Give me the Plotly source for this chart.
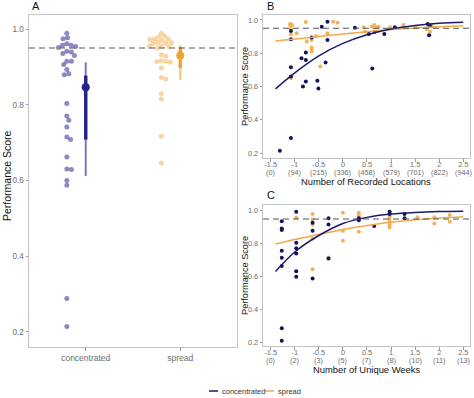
import math
import plotly.graph_objects as go

# ---------------- data ----------------
categories = ["concentrated", "spread"]

conc_scores = [0.989, 0.977, 0.974, 0.961, 0.957, 0.957, 0.954, 0.951, 0.941, 0.939,
               0.935, 0.930, 0.915, 0.915, 0.906, 0.893, 0.882, 0.879, 0.803, 0.770,
               0.759, 0.741, 0.715, 0.708, 0.662, 0.630, 0.629, 0.600, 0.587, 0.288, 0.214]
spread_scores = [0.989, 0.981, 0.979, 0.974, 0.973, 0.972, 0.970, 0.965, 0.964, 0.963,
                 0.962, 0.956, 0.955, 0.954, 0.950, 0.932, 0.929, 0.916, 0.915, 0.914,
                 0.912, 0.897, 0.872, 0.868, 0.829, 0.815, 0.717, 0.646]

conc_mean = 0.846
conc_inner = [0.708, 0.877]
conc_outer = [0.612, 0.912]
spread_mean = 0.930
spread_inner = [0.897, 0.952]
spread_outer = [0.866, 0.958]

threshold = 0.95

# Panel B: recorded locations (standardised)
b_conc_x = [-1.31, -1.08, -1.08, -1.08, -1.08, -1.08, -0.86, -0.83, -0.77, -0.77, -0.77,
            -0.65, -0.53, -0.51, -0.44, -0.36, -0.32, -0.32, 0.25, 0.54, 0.61, 0.66,
            0.86, 1.08, 1.76, 1.79, 1.81]
b_conc_y = [0.214, 0.29, 0.66, 0.716, 0.884, 0.934, 0.77, 0.60, 0.804, 0.76, 0.63,
            0.894, 0.634, 0.588, 0.96, 0.744, 0.99, 0.88, 0.954, 0.916, 0.708, 0.93,
            0.916, 0.956, 0.976, 0.908, 0.964]
b_spread_x = [-1.10, -1.08, -1.06, -1.09, -1.07, -1.08, -1.08, -0.96, -1.08, -0.77, -0.75,
              -0.65, -0.65, -0.65, -0.65, -0.56, -0.47, -0.32, -0.32, -0.20, -0.11, 0.43,
              0.46, 0.60, 0.65, 0.70, 0.74, 0.98, 1.26, 1.51, 1.74, 1.78, 1.81, 1.85]
b_spread_y = [0.976, 0.972, 0.968, 0.966, 0.974, 0.944, 0.914, 0.92, 0.65, 0.988, 0.87,
              0.88, 0.834, 0.82, 0.81, 0.904, 0.72, 0.92, 0.915, 0.99, 0.984, 0.956,
              0.93, 0.96, 0.97, 0.956, 0.96, 0.956, 0.97, 0.956, 0.944, 0.96, 0.93, 0.964]
b_fit_x = [-1.4, -1.0, -0.5, 0.0, 0.5, 1.0, 1.5, 2.0, 2.5]
b_fit_conc = [0.586, 0.682, 0.784, 0.859, 0.911, 0.946, 0.967, 0.980, 0.986]
b_fit_spread = [0.873, 0.885, 0.900, 0.915, 0.930, 0.943, 0.952, 0.959, 0.965]
b_tick_vals = [-1.5, -1, -0.5, 0, 0.5, 1, 1.5, 2, 2.5]
b_tick_raw = ["0", "94", "215", "336", "458", "579", "701", "822", "944"]

# Panel C: unique weeks (standardised)
c_conc_x = [-1.27] * 8 + [-0.97] * 6 + [-0.63] * 3 + [-0.30] * 3 + [0.33] * 2 + [0.65] + [0.97] * 2 + [1.28] * 2
c_conc_y = [0.937, 0.893, 0.883, 0.758, 0.715, 0.665, 0.287, 0.212,
            0.994, 0.806, 0.772, 0.741, 0.634, 0.60,
            0.927, 0.879, 0.59,
            0.954, 0.917, 0.711,
            0.954, 0.943,
            0.907,
            0.994, 0.98,
            0.98, 0.954]
c_spread_x = [-0.97] + [-0.63] * 5 + [-0.30] + [0.0] * 3 + [0.33] * 4 + [0.97] * 7 + [1.55] + [1.9] * 2 + [2.22] * 2
c_spread_y = [0.958,
              0.98, 0.947, 0.917, 0.832, 0.646,
              0.717,
              0.988, 0.879, 0.818,
              0.988, 0.974, 0.96, 0.873,
              0.994, 0.98, 0.968, 0.954, 0.933, 0.913, 0.899,
              0.96,
              0.96, 0.923,
              0.974, 0.933]
c_fit_x = [-1.4, -1.0, -0.5, 0.0, 0.5, 1.0, 1.5, 2.0, 2.5]
c_fit_conc = [0.632, 0.750, 0.850, 0.923, 0.960, 0.980, 0.990, 0.995, 0.997]
c_fit_spread = [0.798, 0.826, 0.856, 0.887, 0.910, 0.930, 0.945, 0.956, 0.964]
c_tick_vals = [-1.5, -1, -0.5, 0, 0.5, 1, 1.5, 2, 2.5]
c_tick_raw = ["0", "2", "3", "5", "7", "8", "10", "11", "13"]

y_tick_vals = [0.2, 0.4, 0.6, 0.8, 1.0]
y_tick_text = ["0.2", "0.4", "0.6", "0.8", "1.0"]

# ---------------- styling ----------------
W, H = 474, 398
FONT = "Liberation Sans, Arial, sans-serif"
NAVY = "#1c1a6e"
NAVY_PT = "#14135a"
ORANGE = "#eeaa4a"
ORANGE_PT = "#f2b256"
A_CONC = "rgba(70,66,155,0.62)"
A_SPREAD = "rgba(245,172,70,0.5)"
BORDER = "#c4c4c4"
TICKC = "#6e6e6e"


def px2x(p):
    return p / W


def px2y(p):
    return 1 - p / H


A_dom_x = [px2x(29), px2x(237)]
A_dom_y = [px2y(347), px2y(15)]
A_xr = [-0.6, 1.6]
A_yr = [0.16, 1.037]
R_dom_x = [px2x(263), px2x(470)]
B_dom_y = [px2y(158), px2y(15)]
B_yr = [0.17, 1.03]
C_dom_y = [px2y(346), px2y(205)]
C_yr = [0.18, 1.035]
R_xr = [-1.66, 2.64]

# scale (px per unit) for the swarm layout in panel A
ypx = (347 - 15) / (A_yr[1] - A_yr[0])
xpx = (237 - 29) / (A_xr[1] - A_xr[0])
DOT = 5.0


def swarm(values, d):
    placed = []
    res = [0.0] * len(values)
    order = sorted(range(len(values)), key=lambda i: -values[i])
    for i in order:
        y = values[i] * ypx
        cands = [0.0]
        for (px, py) in placed:
            dy = abs(py - y)
            if dy < d:
                dx = math.sqrt(d * d - dy * dy)
                cands += [px + dx, px - dx]
        cands.sort(key=abs)
        chosen = 0.0
        for c in cands:
            if all((c - px) ** 2 + (y - py) ** 2 >= d * d - 1e-6 for px, py in placed):
                chosen = c
                break
        placed.append((chosen, y))
        res[i] = chosen / xpx
    return res


fig = go.Figure()

# ---- Panel A ----
for ci, (scores, col) in enumerate([(conc_scores, A_CONC), (spread_scores, A_SPREAD)]):
    offs = swarm(scores, DOT - 0.4)
    fig.add_trace(go.Scatter(
        x=[ci - 0.2 + o for o in offs], y=scores, mode="markers",
        marker=dict(size=DOT, color=col, line=dict(width=0)),
        xaxis="x", yaxis="y", showlegend=False, hoverinfo="skip"))

for ci, (mean, inner, outer, col, light) in enumerate([
        (conc_mean, conc_inner, conc_outer, "#26248a", "rgba(50,48,150,0.65)"),
        (spread_mean, spread_inner, spread_outer, "#f0a236", "rgba(240,162,54,0.65)")]):
    fig.add_trace(go.Scatter(x=[ci, ci], y=outer, mode="lines",
                             line=dict(color=light, width=2),
                             xaxis="x", yaxis="y", showlegend=False, hoverinfo="skip"))
    fig.add_trace(go.Scatter(x=[ci, ci], y=inner, mode="lines",
                             line=dict(color=col, width=3.5),
                             xaxis="x", yaxis="y", showlegend=False, hoverinfo="skip"))
    fig.add_trace(go.Scatter(x=[ci], y=[mean], mode="markers",
                             marker=dict(size=8, color=col),
                             xaxis="x", yaxis="y", showlegend=False, hoverinfo="skip"))

# ---- Panel B ----
fig.add_trace(go.Scatter(x=b_spread_x, y=b_spread_y, mode="markers",
                         marker=dict(size=4, color=ORANGE_PT),
                         xaxis="x2", yaxis="y2", showlegend=False, hoverinfo="skip"))
fig.add_trace(go.Scatter(x=b_conc_x, y=b_conc_y, mode="markers",
                         marker=dict(size=4, color=NAVY_PT),
                         xaxis="x2", yaxis="y2", showlegend=False, hoverinfo="skip"))
fig.add_trace(go.Scatter(x=b_fit_x, y=b_fit_spread, mode="lines", line=dict(color=ORANGE, width=1.5, shape="spline"),
                         xaxis="x2", yaxis="y2", showlegend=False, hoverinfo="skip"))
fig.add_trace(go.Scatter(x=b_fit_x, y=b_fit_conc, mode="lines", line=dict(color=NAVY, width=1.5, shape="spline"),
                         xaxis="x2", yaxis="y2", showlegend=False, hoverinfo="skip"))

# ---- Panel C ----
fig.add_trace(go.Scatter(x=c_spread_x, y=c_spread_y, mode="markers",
                         marker=dict(size=4, color=ORANGE_PT),
                         xaxis="x3", yaxis="y3", showlegend=False, hoverinfo="skip"))
fig.add_trace(go.Scatter(x=c_conc_x, y=c_conc_y, mode="markers",
                         marker=dict(size=4, color=NAVY_PT),
                         xaxis="x3", yaxis="y3", showlegend=False, hoverinfo="skip"))
fig.add_trace(go.Scatter(x=c_fit_x, y=c_fit_spread, mode="lines", line=dict(color=ORANGE, width=1.5, shape="spline"),
                         xaxis="x3", yaxis="y3", showlegend=False, hoverinfo="skip"))
fig.add_trace(go.Scatter(x=c_fit_x, y=c_fit_conc, mode="lines", line=dict(color=NAVY, width=1.5, shape="spline"),
                         xaxis="x3", yaxis="y3", showlegend=False, hoverinfo="skip"))

# threshold dashed lines
for xr, yr in [("x domain", "y"), ("x2 domain", "y2"), ("x3 domain", "y3")]:
    fig.add_shape(type="line", xref=xr, yref=yr, x0=0, x1=1, y0=threshold, y1=threshold,
                  line=dict(color="#555555", width=1.1, dash="6px,4px"), layer="above")

axis_common = dict(showline=True, mirror=True, linecolor=BORDER, linewidth=1,
                   showgrid=False, zeroline=False, ticks="outside", ticklen=2.5,
                   tickcolor="#999999", tickwidth=1)

fig.update_layout(
    width=W, height=H,
    margin=dict(l=0, r=0, t=0, b=0),
    paper_bgcolor="white", plot_bgcolor="white",
    font=dict(family=FONT, color="#222222"),
    xaxis=dict(domain=A_dom_x, range=A_xr, anchor="y", tickvals=[0, 1], ticktext=categories,
               tickfont=dict(size=8.5, color=TICKC, family=FONT), **axis_common),
    yaxis=dict(domain=A_dom_y, range=A_yr, anchor="x", tickvals=y_tick_vals, ticktext=y_tick_text,
               tickfont=dict(size=8.2, color=TICKC, family=FONT), **axis_common),
    xaxis2=dict(domain=R_dom_x, range=R_xr, anchor="y2", tickvals=b_tick_vals,
                ticktext=[f"{v:g}" for v in b_tick_vals], ticklabelstandoff=-3,
                tickfont=dict(size=7.3, color=TICKC, family=FONT), **axis_common),
    yaxis2=dict(domain=B_dom_y, range=B_yr, anchor="x2", tickvals=y_tick_vals, ticktext=y_tick_text,
                tickfont=dict(size=7.3, color=TICKC, family=FONT), **axis_common),
    xaxis3=dict(domain=R_dom_x, range=R_xr, anchor="y3", tickvals=c_tick_vals,
                ticktext=[f"{v:g}" for v in c_tick_vals], ticklabelstandoff=-3,
                tickfont=dict(size=7.3, color=TICKC, family=FONT), **axis_common),
    yaxis3=dict(domain=C_dom_y, range=C_yr, anchor="x3", tickvals=y_tick_vals, ticktext=y_tick_text,
                tickfont=dict(size=7.3, color=TICKC, family=FONT), **axis_common),
)

ann = []


def add_text(text, x, y, size, angle=0, xanchor="center", color="#111111"):
    ann.append(dict(text=text, x=px2x(x), y=px2y(y), xref="paper", yref="paper",
                    showarrow=False, textangle=angle, xanchor=xanchor, yanchor="middle",
                    font=dict(size=size, family=FONT, color=color)))


# second row of x tick labels (raw counts), placed on the data x scale
for xref, vals, raws, ypos in [("x2", b_tick_vals, b_tick_raw, 172.8), ("x3", c_tick_vals, c_tick_raw, 360.5)]:
    for v, r in zip(vals, raws):
        ann.append(dict(text=f"({r})", x=v, y=px2y(ypos), xref=xref, yref="paper",
                        showarrow=False, xanchor="center", yanchor="middle",
                        font=dict(size=7.3, family=FONT, color=TICKC)))

add_text("A", 30, 6, 11, xanchor="left")
add_text("B", 265, 6, 11, xanchor="left")
add_text("C", 265, 195, 11, xanchor="left")
add_text("Performance Score", 7, 176, 10.5, angle=-90)
add_text("Performance Score", 245, 87, 9.2, angle=-90)
add_text("Performance Score", 245, 276, 9.2, angle=-90)
add_text("Number of Recorded Locations", 366, 181, 9.4)
add_text("Number of Unique Weeks", 366, 369, 9.4)

# legend (manual, compact like the reference)
legend_items = [("concentrated", NAVY, 209), ("spread", ORANGE, 265)]
for label, col, x0 in legend_items:
    fig.add_shape(type="line", xref="paper", yref="paper", x0=px2x(x0), x1=px2x(x0 + 9),
                  y0=px2y(391), y1=px2y(391), line=dict(color=col, width=1.5))
    add_text(label, x0 + 11, 391, 7.5, xanchor="left", color="#333333")

fig.update_layout(annotations=ann)
fig.write_html("out.html", config={"displayModeBar": False},
               post_script="document.body.style.margin='0';document.body.style.overflow='hidden';")
